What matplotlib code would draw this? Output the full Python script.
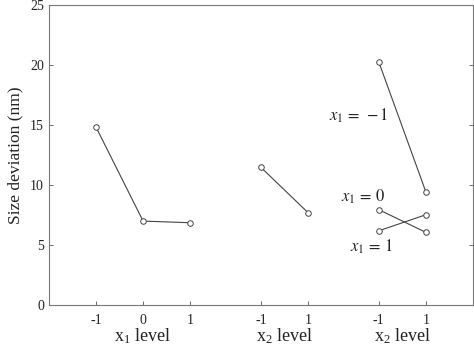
import matplotlib
matplotlib.use("Agg")
import matplotlib.pyplot as plt
import matplotlib.transforms as mtransforms

# ---- datos ----
x1_levels = ["-1", "0", "1"]
x1_mean = [14.83, 7.0, 6.86]

x2_levels = ["-1", "1"]
x2_mean = [11.47, 7.7]

# interaccion x1 * x2
inter_x1_m1 = [20.25, 9.42]
inter_x1_0 = [7.95, 6.06]
inter_x1_p1 = [6.19, 7.53]

# posiciones de cada grupo en el eje
pos_g1 = [1, 2, 3]
pos_g2 = [4.5, 5.5]
pos_g3 = [7, 8]

plt.rcParams["font.family"] = ["Liberation Serif", "DejaVu Serif"]
plt.rcParams["mathtext.fontset"] = "stix"

fig = plt.figure(figsize=(4.74, 3.46), dpi=100)
ax = fig.add_axes([0.103, 0.118, 0.895, 0.868])

estilo = dict(color="#444444", linewidth=0.8, marker="o", markersize=4,
              markerfacecolor="white", markeredgecolor="#444444", markeredgewidth=0.7)

ax.plot(pos_g1, x1_mean, **estilo)
ax.plot(pos_g2, x2_mean, **estilo)
ax.plot(pos_g3, inter_x1_m1, **estilo)
ax.plot(pos_g3, inter_x1_0, **estilo)
ax.plot(pos_g3, inter_x1_p1, **estilo)

ax.set_xlim(0, 9)
ax.set_ylim(0, 25)
ax.set_xticks(pos_g1 + pos_g2 + pos_g3)
ax.set_xticklabels(x1_levels + x2_levels + x2_levels)
ax.set_yticks([0, 5, 10, 15, 20, 25])

ax.tick_params(direction="in", length=3, width=0.6, colors="#555555",
               labelcolor="#222222", labelsize=10, right=True, top=False)
ax.tick_params(axis="x", pad=6)
for s in ax.spines.values():
    s.set_color("#777777")
    s.set_linewidth(0.8)

ax.set_ylabel("Size deviation (nm)", fontsize=12.5, color="#222222", labelpad=5)

# etiquetas de cada grupo bajo el eje
trans = mtransforms.blended_transform_factory(ax.transData, ax.transAxes)
for xc, txt in [(2, "x$_{\\mathregular{1}}$ level"), (5, "x$_{\\mathregular{2}}$ level"),
                (7.5, "x$_{\\mathregular{2}}$ level")]:
    ax.text(xc, -0.105, txt, transform=trans, ha="center", va="center",
            fontsize=13, color="#222222")

# etiquetas de la interaccion
ax.text(7.2, 15.8, "$x_1\\,=\\,-1$", ha="right", va="center", fontsize=12, color="#222222")
ax.text(6.68, 9.0, "$x_1\\,=\\,0$", ha="center", va="center", fontsize=12, color="#222222")
ax.text(6.85, 4.85, "$x_1\\,=\\,1$", ha="center", va="center", fontsize=12, color="#222222")

fig.savefig("out.png", dpi=100)
